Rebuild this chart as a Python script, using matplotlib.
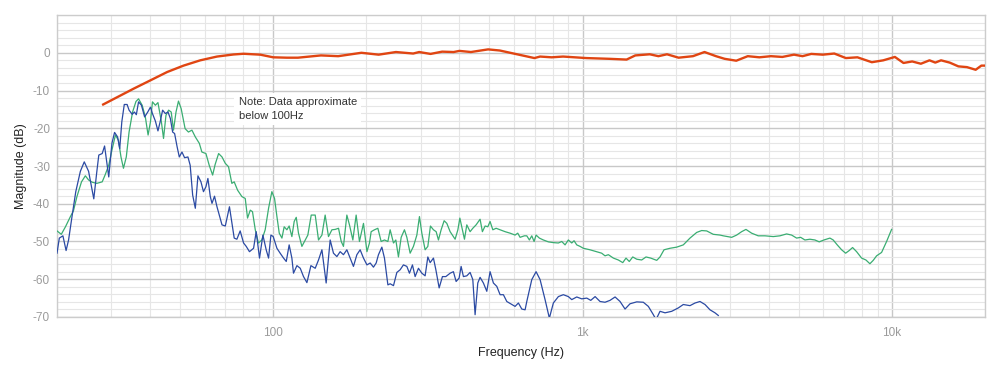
import numpy as np
import matplotlib
matplotlib.use("Agg")
import matplotlib.pyplot as plt
from matplotlib.ticker import FixedLocator, LogLocator, MultipleLocator, NullFormatter

plt.rcParams['font.family'] = ['Liberation Sans', 'DejaVu Sans']
plt.rcParams['axes.unicode_minus'] = False

# kırmızı (turuncu) eğri: frekans (Hz) / seviye (dB)
orange_freq = [28.2, 35.4, 40.1, 45.4, 51.3, 58.1, 65.8, 74.4, 80.2, 90.8, 100.0, 110.7, 120.2, 142.7, 162.2,
               192.8, 219.2, 249.3,
               283.4, 296.4, 322.6, 351.6, 383.0, 399.9, 435.6, 495.1, 540.2, 614.3, 698.8, 729.0, 794.7,
               865.0, 943.6, 1028, 1221, 1388, 1481, 1649, 1759, 1875, 2044, 2275, 2479, 2700, 2880, 3140,
               3421, 3729, 4064, 4424, 4825, 5143, 5488, 5976, 6513, 7102, 7737, 8612, 9381, 10226, 10902,
               11632, 12409, 13231, 13814, 14421, 15378, 16403, 17484, 18657, 19467, 20000]
orange_db = [-13.7, -9.5, -7.3, -5.1, -3.4, -2.0, -1.0, -0.45, -0.26, -0.5, -1.2, -1.3, -1.3, -0.7, -0.9,
             0.0, -0.5, 0.2,
             -0.2, 0.2, -0.3, 0.3, 0.2, 0.5, 0.2, 0.9, 0.6, -0.4, -1.4, -1.0, -1.2,
             -1.0, -1.2, -1.4, -1.6, -1.8, -0.7, -0.4, -0.9, -0.4, -1.3, -0.9, 0.2, -0.9, -1.6, -2.1,
             -0.9, -1.2, -0.9, -1.1, -0.5, -0.9, -0.3, -0.5, -0.2, -1.4, -1.2, -2.5, -2.0, -1.1, -2.7,
             -2.3, -2.9, -2.0, -2.6, -2.0, -2.6, -3.6, -3.8, -4.5, -3.4, -3.4]

# mavi eğri
blue_freq = [20.0, 20.35, 20.9, 21.4, 21.8, 22.4, 23.0, 23.8, 24.5, 25.3, 26.3, 26.9, 27.3, 28.0, 28.5,
             29.4, 30.1, 30.7, 31.4, 31.9, 32.4, 33.0, 33.7, 34.2, 35.0, 35.6, 36.1, 36.7, 37.5, 38.4,
             39.3, 40.1, 40.7, 41.6, 42.4, 43.1, 43.9, 44.8, 45.7, 46.5, 47.3, 48.0, 48.9, 49.7, 50.7,
             51.7, 53.0, 53.9, 54.9, 56.0, 57.1, 58.4, 59.5, 60.6, 61.5, 62.6, 63.4, 64.6,
             65.8, 68.3, 70.0, 72.2, 74.8, 76.3, 78.2, 80.2, 81.8, 83.8, 86.4, 88.1, 90.3, 92.6, 94.9,
             96.6, 98.3, 100.0, 102.8, 105.3, 108.0, 110.2, 112.6, 114.9, 116.3, 119.3, 122.3, 125.3, 128.5, 132.4,
             136.7, 140.1, 143.7, 148.3, 152.8, 156.6, 160.6, 164.6, 168.7, 173.0, 177.3, 181.7, 186.4, 191.0, 195.8,
             200.9, 205.8,
             210.9, 215.2, 218.9, 224.5, 228.9, 234.8, 238.8, 244.8, 251.0, 257.2, 263.6, 270.4, 275.7, 281.9, 287.6,
             294.8, 302.3, 309.8, 316.1, 321.6, 329.6, 335.6, 343.9, 352.4, 361.4, 373.2, 382.4, 390.2, 399.0, 405.0,
             412.0, 422.5, 433.0, 441.8, 449.4, 458.5, 466.4, 478.0, 490.3, 502.4, 515.0, 528.2, 541.3, 554.8, 569.0,
             590.5, 605.2, 620.3, 636.2, 652.0,
             660.3, 685.3, 707.6, 729.0, 756.5, 781.1, 804.7, 835.3, 866.8, 899.7, 922.8, 957.7, 994.0, 1032, 1063,
             1098, 1139, 1182, 1227, 1274, 1322, 1372, 1424, 1497, 1572, 1632, 1694, 1728, 1780, 1848,
             1942, 2040, 2117, 2225, 2310, 2397, 2488, 2582, 2680, 2747]
blue_db = [-53.1, -49.1, -48.5, -52.4, -49.6, -43.0, -36.8, -31.4, -28.9, -31.4, -38.7, -31.5, -27.1, -26.7, -24.7,
           -32.9, -24.0, -21.1, -22.3, -25.4, -18.3, -13.7, -13.7, -15.2, -16.3, -15.7, -16.4, -13.0, -13.9, -17.0,
           -15.7, -14.4, -16.1, -18.1, -20.7, -18.3, -15.2, -16.1, -15.7, -17.4, -21.0, -21.4, -24.9, -27.6, -26.3,
           -27.8, -27.6, -29.8, -37.7, -41.2, -32.6, -34.2, -36.8, -35.5, -33.3, -38.1, -39.9, -38.0,
           -40.8, -45.6, -45.9, -40.8, -49.1, -49.4, -47.2, -50.4, -51.3, -52.7, -51.8, -47.4, -54.4, -48.3, -52.2,
           -54.4, -48.3, -48.7, -51.8, -53.1, -54.4, -55.3, -50.9, -54.4, -58.4, -56.4, -57.1, -59.3, -60.9, -56.4,
           -57.1, -54.9, -52.2, -61.0, -49.6, -53.1, -54.0, -52.7, -53.5, -52.2, -54.4, -56.6, -53.5, -52.2, -54.4,
           -56.2, -55.7,
           -56.8, -55.7, -53.5, -51.5, -54.4, -61.5, -61.2, -61.7, -58.2, -57.5, -56.2, -56.6, -58.4, -56.2, -59.3,
           -57.1, -58.4, -59.1, -54.1, -55.6, -54.4, -57.5, -62.3, -59.3, -59.3, -58.4, -58.0, -60.6, -59.7, -56.6,
           -59.3, -59.1, -58.2, -60.1, -69.4, -61.0, -59.5, -61.0, -63.2, -58.0, -61.0, -61.9, -64.1, -64.1, -65.9,
           -66.7, -67.2, -66.3, -67.9, -68.1,
           -65.9, -60.1, -58.0, -60.1, -65.4, -70.3, -66.3, -64.6, -64.1, -64.6, -65.4, -64.7, -65.2, -65.0, -65.6,
           -64.6, -65.9, -66.1, -65.6, -64.7, -65.9, -67.9, -66.5, -66.0, -66.1, -67.2, -69.4, -70.7, -68.5, -68.9,
           -68.5, -67.6, -66.7, -67.0, -66.3, -65.9, -66.7, -68.1, -68.9, -69.6]

# yeşil eğri
green_freq = [20.0, 20.65, 21.3, 22.1, 22.6, 23.2, 24.0, 24.7, 25.3, 26.0, 26.9, 28.0, 28.6, 29.4, 30.1,
              30.9, 31.6, 32.2, 32.8, 33.5, 34.2, 35.1, 36.0, 36.7, 37.7, 38.6, 39.4, 40.1, 40.7, 41.6,
              42.4, 43.5, 44.2, 45.0, 45.9, 46.8, 47.6, 48.5, 49.4, 50.4, 51.9, 53.2, 54.6, 56.0, 57.7,
              58.8, 60.6, 62.1, 63.7, 64.9,
              66.6, 68.3, 70.0, 71.7, 73.5, 74.8, 76.7, 79.2, 81.2, 82.6, 84.3, 85.7, 87.5, 89.6, 91.9,
              94.2, 96.6, 99.0, 101.0, 102.8, 104.6, 106.7, 108.5, 110.7, 112.6, 114.9, 116.9, 118.7, 120.7, 123.8,
              126.9, 129.4, 132.7, 136.7, 140.1, 143.7, 147.2, 150.9, 154.8, 158.6, 162.6, 165.9, 168.7, 173.0, 176.4,
              180.9, 185.4, 190.0, 195.8, 200.9, 204.7,
              207.3, 212.5, 217.9, 223.3, 228.9, 234.8, 238.8, 244.8, 249.1, 254.0, 259.2, 265.6, 270.4, 277.1, 284.0,
              291.3, 297.0, 302.3, 309.8, 316.1, 322.3, 329.6, 336.3, 342.1, 349.0, 356.9, 364.1, 373.2, 379.6, 387.3,
              395.3, 401.2, 409.0, 415.2, 422.5, 433.0, 441.8, 452.7, 466.4, 474.5, 484.2, 494.0, 502.4, 512.8, 525.5,
              541.3, 561.9, 583.2, 605.2, 617.4, 628.1, 648.5,
              660.3, 673.2, 685.3, 697.2, 707.6, 725.2, 747.0, 775.4, 804.7, 835.3, 856.6, 878.0, 899.7, 922.8, 938.7,
              957.7, 981.5, 1006, 1057, 1111, 1153, 1182, 1212, 1258, 1305, 1349, 1382, 1416, 1453, 1497,
              1553, 1604, 1661, 1737, 1780, 1834, 1917, 2015, 2117, 2225, 2339, 2427, 2519, 2646, 2782,
              2851, 3035, 3149, 3268, 3375, 3521, 3698, 3888, 4135, 4346, 4567, 4741, 4921, 5070, 5235,
              5433, 5640, 5823, 6030, 6305, 6461, 6658, 6879, 7087, 7278, 7464, 7690, 7982, 8242, 8491,
              8703, 8925, 9263, 9614, 9978]
green_db = [-47.2, -48.1, -46.1, -43.4, -41.9, -38.1, -34.2, -32.6, -33.7, -34.3, -34.6, -34.2, -32.4, -29.8, -25.8,
            -21.8, -23.2, -27.6, -30.6, -27.6, -21.0, -15.7, -12.9, -12.2, -13.9, -17.0, -21.8, -18.3, -13.0, -13.9,
            -13.2, -18.3, -22.7, -16.6, -15.2, -15.7, -20.5, -15.7, -12.8, -14.8, -20.1, -21.0, -20.5, -22.3, -24.0,
            -26.3, -26.7, -29.8, -32.4, -29.6,
            -26.7, -27.6, -29.3, -30.2, -34.6, -34.2, -36.4, -38.1, -38.6, -43.8, -41.7, -42.1, -46.9, -50.4, -49.6,
            -46.9, -41.2, -36.8, -38.6, -43.4, -47.8, -49.1, -46.1, -46.9, -45.9, -48.7, -44.7, -43.6, -47.8, -51.3,
            -49.6, -48.3, -43.0, -43.0, -49.6, -48.3, -43.0, -48.7, -46.9, -46.8, -46.5, -50.0, -51.3, -43.0, -45.6,
            -49.6, -43.0, -50.0, -45.2, -52.7, -50.4,
            -47.4, -46.9, -46.5, -50.0, -49.6, -50.0, -46.9, -50.4, -49.6, -54.1, -48.9, -46.9, -48.9, -53.1, -51.3,
            -48.3, -43.4, -47.8, -52.2, -51.3, -45.9, -46.9, -47.4, -49.6, -46.9, -44.5, -45.2, -47.4, -48.3, -49.4,
            -46.9, -43.8, -46.9, -49.4, -45.6, -47.4, -46.5, -45.6, -44.1, -47.4, -45.9, -46.1, -44.7, -46.9, -46.5,
            -46.9, -47.4, -47.8, -48.3, -47.8, -48.9, -48.5,
            -48.5, -49.6, -48.5, -50.0, -48.3, -49.1, -49.6, -50.1, -50.3, -50.4, -50.0, -50.9, -49.6, -50.4, -49.8,
            -50.9, -51.3, -51.8, -52.2, -52.7, -53.1, -53.8, -53.5, -54.4, -54.9, -55.6, -54.4, -55.3, -54.1, -54.7,
            -54.9, -54.1, -54.4, -55.0, -54.1, -52.2, -51.8, -51.5, -50.9, -49.1, -47.6, -47.1, -47.2, -48.1, -48.3,
            -48.5, -48.9, -48.3, -47.4, -46.8, -47.8, -48.5, -48.5, -48.7, -48.5, -48.0, -48.3, -49.1, -48.9, -49.6,
            -49.4, -49.6, -50.1, -49.6, -49.1, -49.6, -50.9, -52.2, -53.1, -52.4, -51.6, -52.7, -54.4, -54.9, -55.9,
            -55.0, -53.8, -52.9, -50.0, -46.8]

y_ticks = [0, -10, -20, -30, -40, -50, -60, -70]
x_ticks = [100, 1000, 10000]
x_tick_labels = ['100', '1k', '10k']
note = "Note: Data approximate\nbelow 100Hz"

fig = plt.figure(figsize=(10, 3.76), dpi=100)
ax = fig.add_axes([0.057, 0.157, 0.928, 0.803])

ax.set_xscale('log')
ax.set_xlim(20, 20000)
ax.set_ylim(-70, 10)

ax.plot(green_freq, green_db, color='#3aad72', linewidth=0.9, zorder=3)
ax.plot(blue_freq, blue_db, color='#2b4aa3', linewidth=0.9, zorder=4)
ax.plot(orange_freq, orange_db, color='#e04512', linewidth=1.7, zorder=5)

# ızgara
ax.xaxis.set_major_locator(FixedLocator(x_ticks))
ax.xaxis.set_minor_locator(LogLocator(base=10, subs=np.arange(2, 10)))
ax.xaxis.set_minor_formatter(NullFormatter())
ax.set_xticklabels(x_tick_labels)
ax.set_yticks(y_ticks)
ax.set_yticklabels([str(v) for v in y_ticks])
ax.yaxis.set_minor_locator(MultipleLocator(2))

ax.grid(which='minor', color='#e6e6e6', linewidth=0.8, zorder=0)
ax.grid(which='major', color='#c8c8c8', linewidth=1.0, zorder=1)
ax.set_axisbelow(True)
ax.tick_params(which='both', length=0)
ax.tick_params(axis='both', labelsize=8.5, labelcolor='#9b9b9b')
ax.tick_params(axis='y', pad=5)
ax.tick_params(axis='x', pad=7)
for s in ax.spines.values():
    s.set_color('#cccccc')
    s.set_linewidth(1.0)

ax.set_xlabel('Frequency (Hz)', fontsize=9, color='#222222', labelpad=6)
ax.set_ylabel('Magnitude (dB)', fontsize=9, color='#222222', labelpad=4)

ax.text(77.3, -11.7, note, fontsize=8, color='#333333', va='top', ha='left', linespacing=1.45, zorder=6,
        bbox=dict(facecolor='white', edgecolor='none', pad=3))

plt.savefig('out.png', dpi=100)
